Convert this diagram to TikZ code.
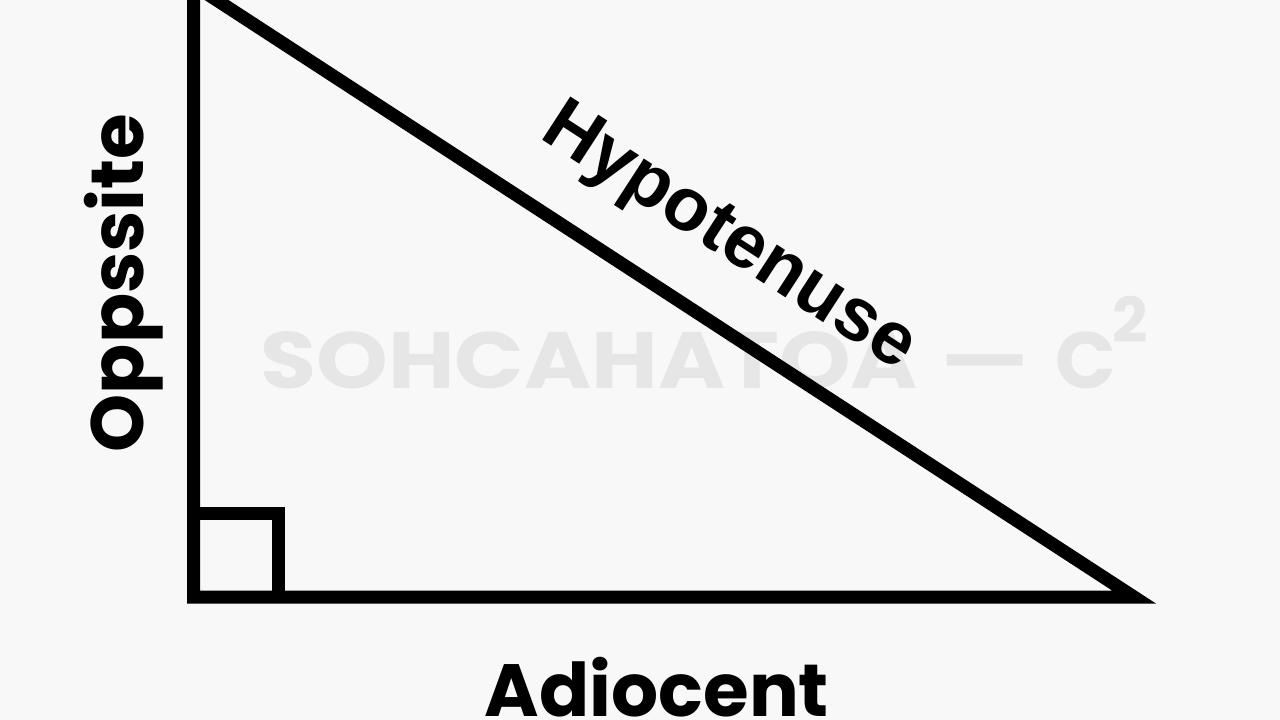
\documentclass[tikz,border=0pt]{standalone}
\usepackage{fontspec}
\setmainfont{Liberation Sans}
\newfontfamily\pop{Poppins}
\newfontfamily\lib{Liberation Sans}
\definecolor{bg}{HTML}{F8F8F8}
\definecolor{wm}{HTML}{E6E6E6}
\tikzset{
  edge/.style={line width=13pt, line join=miter, black},
  lbl/.style={font=\pop\bfseries\fontsize{74}{74}\selectfont, inner sep=0pt, anchor=base},
  hyplbl/.style={font=\lib\bfseries\fontsize{75}{75}\selectfont, inner sep=0pt, anchor=base},
  water/.style={font=\pop\bfseries\fontsize{80}{80}\selectfont, text=wm, inner sep=0pt, anchor=base west}
}
\begin{document}
\begin{tikzpicture}[x=1pt,y=-1pt]
\fill[bg] (0,0) rectangle (1280,720);
\useasboundingbox (0,0) rectangle (1280,720);
% watermark
\node[water, xscale=1.14] (wm1) at (260,388) {SOHCAHATOA};
\node[water, xscale=1.2] (wm2) at (940,388) {—};
\node[water] (wm3) at (1055,388) {C};
\node[water, font=\pop\bfseries\fontsize{62}{62}\selectfont] (wm4) at (1112,342) {2};
% triangle
\coordinate (T) at (193.5,-15);
\coordinate (B) at (193.5,597);
\coordinate (R) at (1134,597);
\draw[edge] (T) -- (B) -- (R) -- cycle;
% right angle mark
\coordinate (S1) at (193.5,513.5);
\coordinate (S2) at (278.5,513.5);
\coordinate (S3) at (278.5,597);
\draw[edge] (S1) -- (S2) -- (S3);
% labels
\node[lbl, rotate=90] (opp) at (143,283) {Oppssite};
\node[lbl] (adj) at (657,716) {Adiocent};
\node[hyplbl, rotate=-33] (hyp) at (718,254) {Hypotenuse};
\end{tikzpicture}
\end{document}
